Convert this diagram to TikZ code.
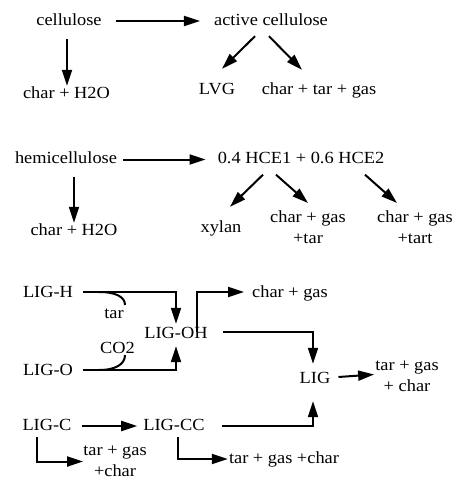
\documentclass[tikz,border=0pt]{standalone}
\usepackage{fontspec}
\setmainfont{Liberation Serif}[FakeStretch=1.08]
\usetikzlibrary{arrows.meta}
\tikzset{
  lbl/.style={inner sep=0pt, text height=11pt, text depth=3pt, font=\fontsize{17}{21}\selectfont},
  lbl2/.style={inner sep=0pt, align=center, font=\fontsize{17}{21}\selectfont},
  arr/.style={line width=2pt, -{Triangle[length=16pt,width=10pt]}},
  ln/.style={line width=2pt}
}
\begin{document}
\begin{tikzpicture}[x=1pt,y=-1pt]
\useasboundingbox (0,0) rectangle (474,485);
% cellulose
\node[lbl] (c) at (69,21) {cellulose};
\node[lbl] (ac) at (271,21) {active cellulose};
\node[lbl] (ch1) at (66.5,94) {char + H2O};
\node[lbl] (lvg) at (217,90) {LVG};
\node[lbl] (ctg) at (319,90) {char + tar + gas};
\draw[arr] ([xshift=14pt]c.east) -- ([xshift=-14pt]ac.west);
\draw[arr] ([xshift=-2pt,yshift=-11pt]c.south) -- ([xshift=0.5pt,yshift=1pt]ch1.north);
\draw[arr] ([xshift=-16pt,yshift=-8pt]ac.south) -- ([xshift=5pt,yshift=14pt]lvg.north);
\draw[arr] ([xshift=-2pt,yshift=-8pt]ac.south) -- ([xshift=-17pt,yshift=13pt]ctg.north);
% hemicellulose
\node[lbl] (hc) at (66,159.5) {hemicellulose};
\node[lbl] (hce) at (301,159.5) {0.4 HCE1 + 0.6 HCE2};
\node[lbl] (ch2) at (74,231) {char + H2O};
\node[lbl] (xy) at (221,228) {xylan};
\node[lbl2] (cgt1) at (308,227.5) {char + gas\\+tar};
\node[lbl2] (cgt2) at (415,227.5) {char + gas\\+tart};
\draw[arr] ([xshift=6pt]hc.east) -- ([xshift=-12pt]hce.west);
\draw[arr] ([xshift=8pt,yshift=-10pt]hc.south) -- ([xshift=0pt,yshift=1pt]ch2.north);
\draw[arr] ([xshift=-38pt,yshift=-8pt]hce.south) -- ([xshift=9pt,yshift=14pt]xy.north);
\draw[arr] ([xshift=-25pt,yshift=-8pt]hce.south) -- (308,203);
\draw[arr] ([xshift=64pt,yshift=-8pt]hce.south) -- (397,203);
% lignin
\node[lbl] (lh) at (48,293) {LIG-H};
\node[lbl] (lo) at (48,371) {LIG-O};
\node[lbl] (loh) at (176,334) {LIG-OH};
\node[lbl] (tar) at (114,314) {tar};
\node[lbl] (co2) at (117.5,349) {CO2};
\node[lbl] (cg) at (290,293) {char + gas};
\node[lbl] (lig) at (315,379) {LIG};
\node[lbl2] (tgc1) at (407,376.5) {tar + gas\\+ char};
\node[lbl] (lc) at (47,426) {LIG-C};
\node[lbl] (lcc) at (174,426) {LIG-CC};
\node[lbl2] (tgc2) at (115,461.5) {tar + gas\\+char};
\node[lbl] (tgc3) at (284,459) {tar + gas +char};
\draw[arr] ([xshift=10pt,yshift=1pt]lh.east) -| ([yshift=3pt]loh.north);
\draw[ln] (99,292) .. controls (116,292) and (125,297) .. (125,305);
\draw[arr] ([xshift=10pt,yshift=1pt]lo.east) -| ([yshift=-5pt]loh.south);
\draw[ln] (99,370) .. controls (116,370) and (125,364) .. (125,355);
\draw[arr] ([xshift=21pt,yshift=-5pt]loh.north) |- ([xshift=-8pt,yshift=1pt]cg.west);
\draw[arr] ([xshift=15pt,yshift=2pt]loh.east) -| ([xshift=-2pt,yshift=8pt]lig.north);
\draw[arr] ([xshift=8pt,yshift=2pt]lig.east) -- ([xshift=-1pt,yshift=2pt]tgc1.west);
\draw[arr] ([xshift=10pt]lc.east) -- ([xshift=-6pt]lcc.west);
\draw[arr] ([xshift=17pt]lcc.east) -| ([xshift=-2pt,yshift=-15pt]lig.south);
\draw[arr] ([xshift=-10pt,yshift=-4pt]lc.south) |- (tgc2.west);
\draw[arr] ([xshift=4pt,yshift=-4pt]lcc.south) |- ([xshift=-1pt]tgc3.west);
\end{tikzpicture}
\end{document}
